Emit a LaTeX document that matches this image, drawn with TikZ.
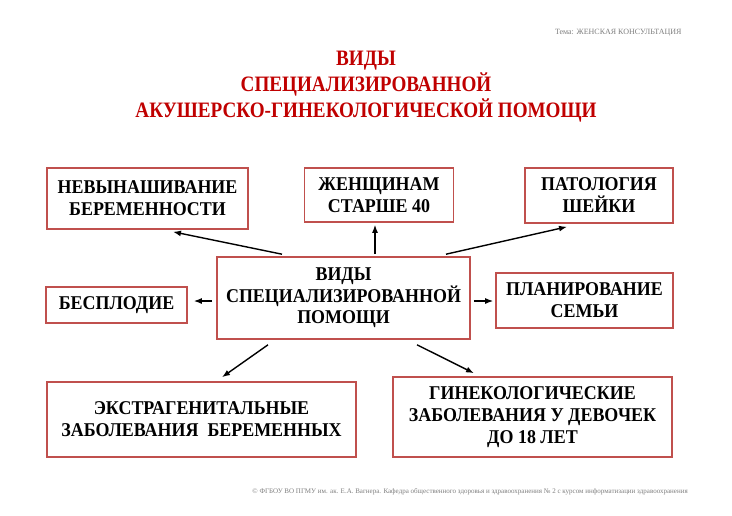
\documentclass[tikz,border=0pt]{standalone}
\usepackage{fontspec}
\setmainfont{Liberation Serif}
\newfontfamily\titlefam[FakeStretch=0.87]{Liberation Serif}
\newfontfamily\boxfam[FakeStretch=0.92]{Liberation Serif}
\usetikzlibrary{arrows.meta}
\definecolor{boxred}{HTML}{C0504D}
\definecolor{titlered}{HTML}{C00000}
\definecolor{greytext}{HTML}{7F7F7F}
\tikzset{
  box/.style={draw=boxred, line width=1.6pt, fill=white, rectangle, align=center,
    font=\boxfam\fontsize{19.5}{22}\selectfont\bfseries, inner sep=0pt},
  arr/.style={-{Latex[length=8pt,width=6pt]}, line width=1.4pt, black},
  titletext/.style={text=titlered, align=center, font=\titlefam\fontsize{22}{26}\selectfont\bfseries},
}
\begin{document}
\begin{tikzpicture}[x=1pt,y=-1pt]
\useasboundingbox (0,0) rectangle (732,515);
\fill[white] (0,0) rectangle (732,515);

\node[text=greytext, font=\fontsize{8}{9}\selectfont, anchor=east] (hdr) at (685,33) {Тема: ЖЕНСКАЯ КОНСУЛЬТАЦИЯ};

\node[titletext] (title) at (366,86.5) {ВИДЫ\\СПЕЦИАЛИЗИРОВАННОЙ\\АКУШЕРСКО-ГИНЕКОЛОГИЧЕСКОЙ ПОМОЩИ};

\node[box, minimum width=201pt, minimum height=61pt] (b1) at (147.5,198.5) {НЕВЫНАШИВАНИЕ\\БЕРЕМЕННОСТИ};
\node[box, minimum width=149pt, minimum height=54pt] (b2) at (379,195) {ЖЕНЩИНАМ\\СТАРШЕ 40};
\node[box, minimum width=148pt, minimum height=55pt] (b3) at (599,195.5) {ПАТОЛОГИЯ\\ШЕЙКИ};
\node[box, minimum width=253pt, minimum height=82pt, font=\boxfam\fontsize{19.5}{21.5}\selectfont\bfseries] (c) at (343.5,298) {ВИДЫ\\СПЕЦИАЛИЗИРОВАННОЙ\\ПОМОЩИ};
\node[box, minimum width=141pt, minimum height=36pt] (bes) at (116.5,305) {БЕСПЛОДИЕ};
\node[box, minimum width=177pt, minimum height=55pt] (plan) at (584.5,300.5) {ПЛАНИРОВАНИЕ\\СЕМЬИ};
\node[box, minimum width=309pt, minimum height=75pt] (ek) at (201.5,419.5) {ЭКСТРАГЕНИТАЛЬНЫЕ\\ЗАБОЛЕВАНИЯ\ \ БЕРЕМЕННЫХ};
\node[box, minimum width=279pt, minimum height=80pt] (gyn) at (532.5,417) {ГИНЕКОЛОГИЧЕСКИЕ\\ЗАБОЛЕВАНИЯ У ДЕВОЧЕК\\ДО 18 ЛЕТ};

\draw[arr] ([xshift=-61.5pt,yshift=2pt]c.north) -- ([xshift=25.5pt,yshift=-2pt]b1.south);
\draw[arr] ([xshift=31.5pt,yshift=2pt]c.north) -- ([xshift=-4pt,yshift=-2pt]b2.south);
\draw[arr] ([xshift=102.5pt,yshift=2pt]c.north) -- ([xshift=-32pt,yshift=-3pt]b3.south);
\draw[arr] ([xshift=-4pt,yshift=-3pt]c.west) -- ([xshift=6pt,yshift=4pt]bes.east);
\draw[arr] ([xshift=3pt,yshift=-3pt]c.east) -- ([xshift=-2pt,yshift=-0.5pt]plan.west);
\draw[arr] ([xshift=-75.5pt,yshift=-5pt]c.south) -- ([xshift=20.5pt,yshift=4pt]ek.north);
\draw[arr] ([xshift=73.5pt,yshift=-5pt]c.south) -- ([xshift=-58.5pt,yshift=3pt]gyn.north);

\node[text=greytext, font=\fontsize{7}{8}\selectfont, anchor=east, inner sep=0pt] (ftr) at (688,492) {© ФГБОУ ВО ПГМУ им. ак. Е.А. Вагнера. Кафедра общественного здоровья и здравоохранения № 2 с курсом информатизации здравоохранения};
\end{tikzpicture}
\end{document}
